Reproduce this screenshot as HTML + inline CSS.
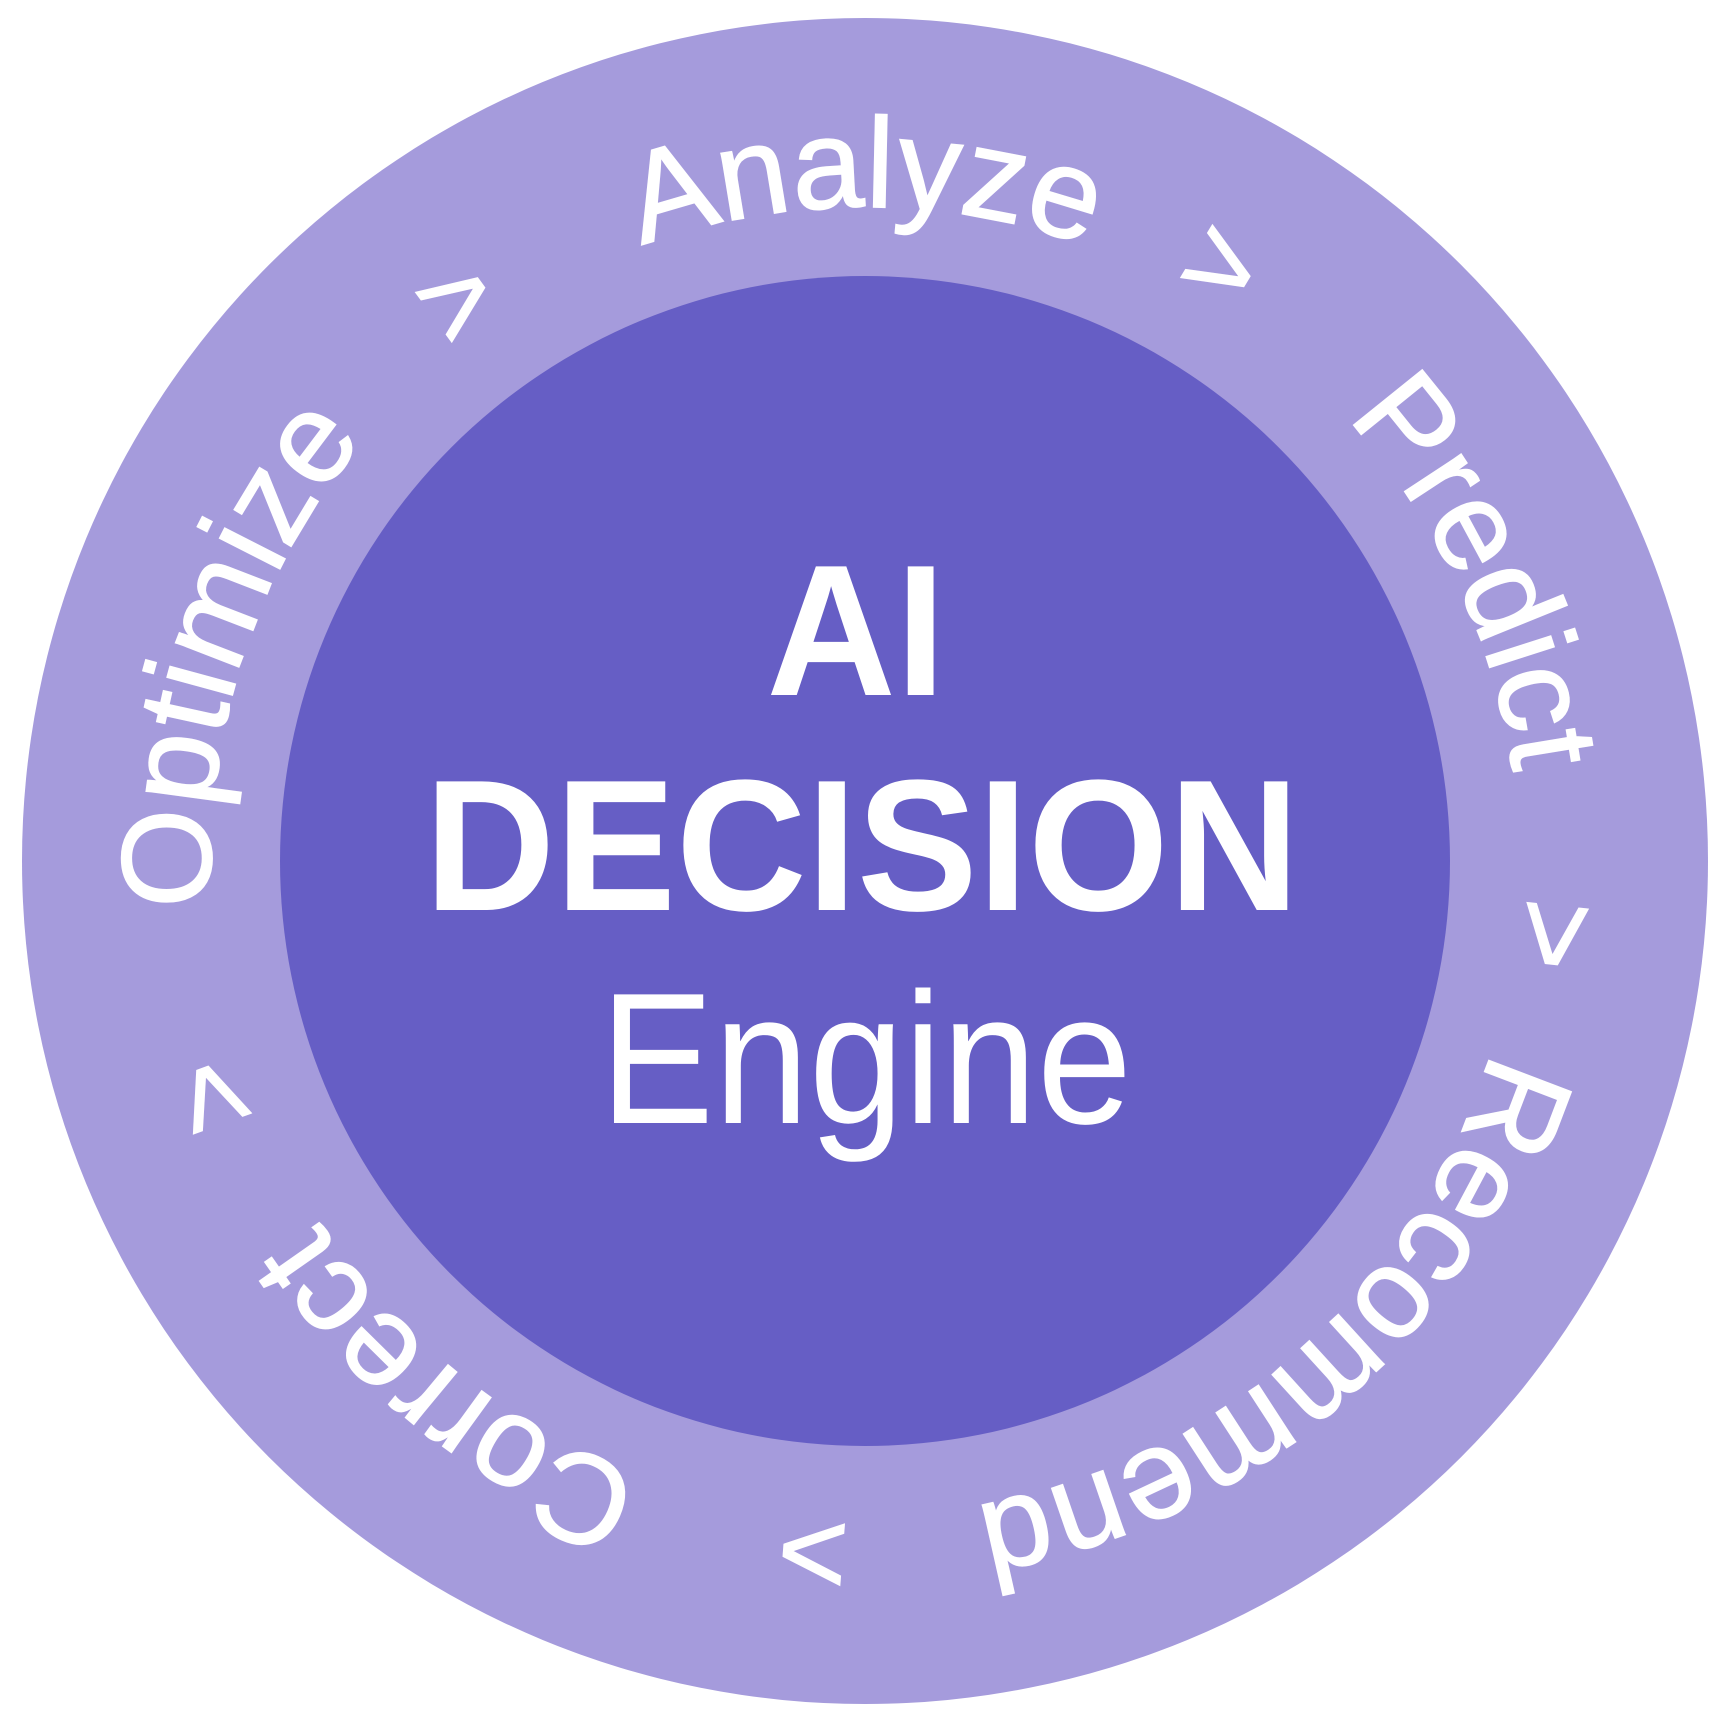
<!DOCTYPE html>
<html><head><meta charset="utf-8"><style>
html,body{margin:0;padding:0;background:#fff;}
svg{display:block}
</style></head><body>
<svg width="1730" height="1721" viewBox="0 0 1730 1721" xmlns="http://www.w3.org/2000/svg">
<defs>
<path id="ring" d="M865,1515 A654,654 0 1 1 865,207 A654,654 0 1 1 865,1515" fill="none"/>
</defs>
<circle cx="865" cy="861" r="843" fill="#a59bdc"/>
<circle cx="865" cy="861" r="585" fill="#665ec5"/>
<g font-family="Liberation Sans, sans-serif" fill="#fff" stroke="#fff" stroke-width="1.5" font-size="128">
<text text-anchor="middle"><textPath href="#ring" startOffset="50%">Analyze</textPath></text>
<text text-anchor="middle"><textPath href="#ring" startOffset="68%">Predict</textPath></text>
<text text-anchor="middle"><textPath href="#ring" startOffset="88.5%">Recommend</textPath></text>
<text text-anchor="middle"><textPath href="#ring" startOffset="10.6%">Correct</textPath></text>
<text text-anchor="middle"><textPath href="#ring" startOffset="30%">Optimize</textPath></text>
<text text-anchor="middle" font-size="120"><textPath href="#ring" startOffset="40%">&gt;</textPath></text>
<text text-anchor="middle" font-size="120"><textPath href="#ring" startOffset="58.6%">&gt;</textPath></text>
<text text-anchor="middle" font-size="120"><textPath href="#ring" startOffset="76.7%">&gt;</textPath></text>
<text text-anchor="middle" font-size="120"><textPath href="#ring" startOffset="1.2%">&gt;</textPath></text>
<text text-anchor="middle" font-size="120"><textPath href="#ring" startOffset="19.5%">&gt;</textPath></text>
</g>
<g font-family="Liberation Sans, sans-serif" fill="#fff" text-anchor="middle">
<text x="856" y="695" font-size="187" font-weight="bold" textLength="179" lengthAdjust="spacingAndGlyphs">AI</text>
<text x="862" y="910" font-size="187" font-weight="bold" textLength="875" lengthAdjust="spacingAndGlyphs">DECISION</text>
<text x="866" y="1123" font-size="187" textLength="532" lengthAdjust="spacingAndGlyphs">Engine</text>
</g>
</svg>
</body></html>
